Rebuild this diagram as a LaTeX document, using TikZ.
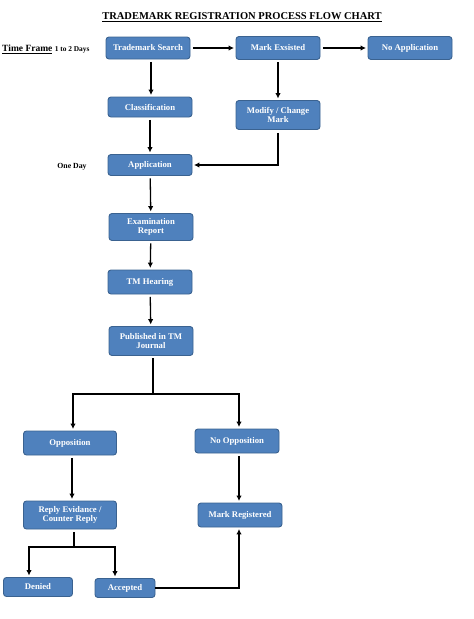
\documentclass[tikz,border=0pt]{standalone}
\usepackage{fontspec}
\setmainfont{Liberation Serif}
\usetikzlibrary{arrows.meta}
\definecolor{boxblue}{HTML}{4F81BD}
\definecolor{boxedge}{HTML}{3A6290}
\begin{document}
\begin{tikzpicture}[x=1pt, y=-1pt,
    stepbox/.style={rectangle, rounded corners=3pt, fill=boxblue, draw=boxedge, line width=0.9pt,
        text=white, font=\bfseries\fontsize{8.7}{9.8}\selectfont, align=center,
        minimum width=84pt, minimum height=23pt, inner sep=1pt},
    flow/.style={line width=1.3pt, -{Latex[length=5.5pt,width=5.5pt]}, shorten <=2.5pt, shorten >=1.5pt},
    plain/.style={line width=1.3pt}]
    \useasboundingbox (0,0) rectangle (474,619);
    \node[font=\bfseries\fontsize{10.5}{12}\selectfont] (title) at (242,17) {\underline{TRADEMARK REGISTRATION PROCESS FLOW CHART}};
    \node[anchor=west, inner sep=0pt] (frame) at (2,49) {\bfseries\fontsize{9.5}{11}\selectfont\underline{Time Frame}\ \fontsize{7.4}{9}\selectfont 1 to 2 Days};
    \node[font=\bfseries\fontsize{7.8}{9}\selectfont] (oneday) at (72,167) {One Day};
    \node[stepbox, minimum height=22pt] (search) at (148,48) {Trademark Search};
    \node[stepbox] (exist) at (278,48) {Mark Exsisted};
    \node[stepbox] (noapp) at (410,48) {No Application};
    \node[stepbox, minimum height=20pt] (classif) at (150,107) {Classification};
    \node[stepbox, minimum height=29pt] (modify) at (278,115) {Modify / Change\\Mark};
    \node[stepbox, minimum height=21pt] (appl) at (150,165) {Application};
    \node[stepbox, minimum height=27pt] (exam) at (151,227) {Examination\\Report};
    \node[stepbox, minimum height=24pt] (hearing) at (150,282) {TM Hearing};
    \node[stepbox, minimum height=29pt] (journal) at (151,341) {Published in TM\\Journal};
    \node[stepbox, minimum width=93pt, minimum height=24pt] (oppos) at (70,443) {Opposition};
    \node[stepbox, minimum height=24pt] (noopp) at (237,441) {No Opposition};
    \node[stepbox, minimum width=93pt, minimum height=28pt] (reply) at (70,515) {Reply Evidance /\\Counter Reply};
    \node[stepbox, minimum height=24pt] (registered) at (240,515) {Mark Registered};
    \node[stepbox, minimum width=69pt, minimum height=19pt] (denied) at (38,587) {Denied};
    \node[stepbox, minimum width=60pt, minimum height=19pt] (accepted) at (125,588) {Accepted};
    \coordinate (split) at (153,394);
    \coordinate (fork) at (74,547);
    \draw[flow] (search) -- (exist);
    \draw[flow] (exist) -- (noapp);
    \draw[flow] (search.south -| 151,0) -- (classif.north -| 151,0);
    \draw[flow] (exist) -- (modify);
    \draw[flow] (classif) -- (appl);
    \draw[flow, shorten <=3pt] (modify.south) |- (appl.east);
    \draw[flow] (appl) -- (exam);
    \draw[flow] (exam) -- (hearing);
    \draw[flow] (hearing) -- (journal);
    \draw[plain, shorten <=2.5pt] (journal.south -| split) -- (split);
    \draw[flow, shorten <=0pt] (split) -| ([xshift=3pt]oppos.north);
    \draw[flow, shorten <=0pt] (split) -| ([xshift=2pt]noopp.north);
    \draw[flow] ([xshift=2pt]oppos.south) -- ([xshift=2pt]reply.north);
    \draw[flow] ([xshift=2pt]noopp.south) -- ([xshift=-1pt]registered.north);
    \draw[plain, shorten <=2.5pt] (reply.south -| fork) -- (fork);
    \draw[flow, shorten <=0pt] (fork) -| ([xshift=-9pt]denied.north);
    \draw[flow, shorten <=0pt] (fork) -| ([xshift=-10pt]accepted.north);
    \draw[flow, shorten <=0pt] (accepted.east) -| ([xshift=-1pt]registered.south);
\end{tikzpicture}
\end{document}
